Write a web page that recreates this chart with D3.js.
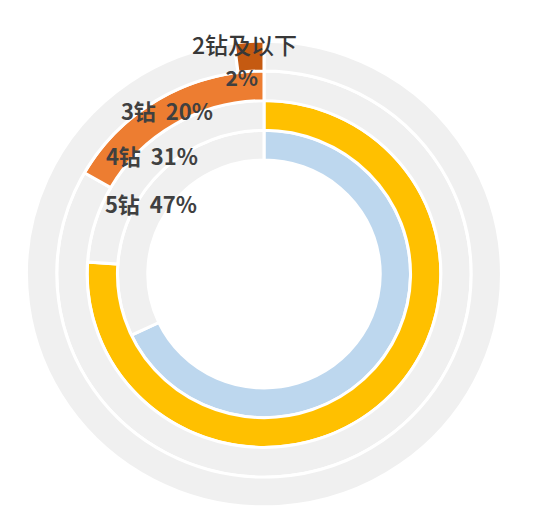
<!DOCTYPE html>
<html>
<head>
<meta charset="utf-8">
<script src="https://cdn.jsdelivr.net/npm/d3@7"></script>
<style>
  body { margin: 0; background: #fff; }
  svg { display: block; }
  .lbl { font-family: "Noto Sans CJK SC", "Noto Sans", sans-serif; font-weight: bold; fill: #404040; }
</style>
</head>
<body>
<div id="chart"></div>
<script>
// rings from inside to outside
var categories = ["5钻", "4钻", "3钻", "2钻及以下"];
var shares = [47, 31, 20, 2];             // % shown in labels
var arcFrom = [0, 0, 0.833, 0.98];        // coloured part of each ring, as fraction of the circle
var arcTo = [0.68, 0.761, 1, 1];

var width = 550;
var height = 518;
var cx = 264, cy = 274;

var color = d3.scaleOrdinal()
  .domain(categories)
  .range(["#bdd7ee", "#ffc000", "#ed7d31", "#c55a11"]);

// radial band for every ring
var ring = d3.scaleBand()
  .domain(categories)
  .range([114.5, 234])
  .paddingInner(0);

var angle = d3.scaleLinear().domain([0, 1]).range([0, 2 * Math.PI]);

var svg = d3.select('#chart')
  .append('svg')
  .attr('width', width)
  .attr('height', height);

var g = svg.append('g')
  .attr('transform', 'translate(' + cx + ',' + cy + ') scale(1.015,0.995)');

var arc = d3.arc()
  .innerRadius(function (d) { return ring(d.cat); })
  .outerRadius(function (d) { return ring(d.cat) + ring.bandwidth(); });

// each ring = grey track + coloured piece, white borders make the gaps
var pieces = [];
categories.forEach(function (c, i) {
  var a0 = angle(arcFrom[i]), a1 = angle(arcTo[i]);
  if (a0 > 0) pieces.push({ cat: c, startAngle: 0, endAngle: a0, grey: true });
  pieces.push({ cat: c, startAngle: a0, endAngle: a1, grey: false });
  if (a1 < 2 * Math.PI) pieces.push({ cat: c, startAngle: a1, endAngle: 2 * Math.PI, grey: true });
});

g.selectAll('path')
  .data(pieces)
  .enter()
  .append('path')
  .attr('d', arc)
  .attr('fill', function (d) { return d.grey ? '#f0f0f0' : color(d.cat); })
  .attr('stroke', '#fff')
  .attr('stroke-width', 3);

// data labels (placed like the original)
var labelPos = [[197, 205], [198, 157], [213, 112]];
[0, 1, 2].forEach(function (i) {
  svg.append('text')
    .attr('class', 'lbl')
    .attr('x', labelPos[i][0])
    .attr('y', labelPos[i][1])
    .attr('dy', '0.35em')
    .attr('text-anchor', 'end')
    .attr('xml:space', 'preserve')
    .style('font-size', '22px')
    .style('white-space', 'pre')
    .text(categories[i] + '  ' + shares[i] + '%');
});

svg.append('text')
  .attr('class', 'lbl')
  .attr('x', 297).attr('y', 46).attr('dy', '0.35em')
  .attr('text-anchor', 'end')
  .style('font-size', '23px')
  .style('font-weight', '500')
  .style('fill', '#383838')
  .text(categories[3]);

svg.append('text')
  .attr('class', 'lbl')
  .attr('x', 258).attr('y', 79).attr('dy', '0.35em')
  .attr('text-anchor', 'end')
  .style('font-size', '21px')
  .text(shares[3] + '%');
</script>
</body>
</html>
